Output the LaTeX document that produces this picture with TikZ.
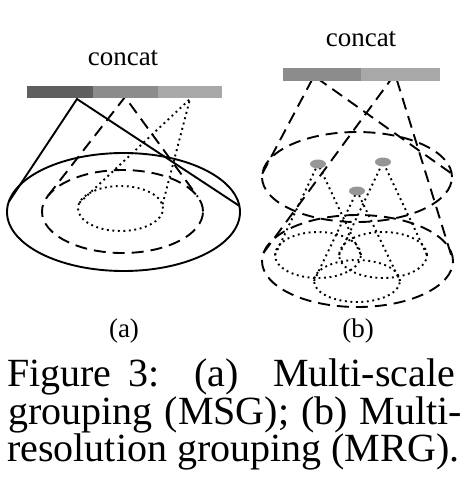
\documentclass[tikz,border=0pt]{standalone}
\usepackage{fontspec}
\setmainfont{Liberation Serif}
\usetikzlibrary{shapes.geometric}
\definecolor{barA}{RGB}{95,95,95}
\definecolor{barB}{RGB}{140,140,140}
\definecolor{barC}{RGB}{168,168,168}
\definecolor{dotgray}{RGB}{150,150,150}
\begin{document}
\begin{tikzpicture}[x=1pt,y=-1pt,
  solidl/.style={line width=1.9pt},
  dashl/.style={line width=1.9pt, dash pattern=on 12pt off 7pt},
  dotl/.style={line width=1.9pt, dash pattern=on 1.9pt off 3.6pt},
  ell/.style={ellipse, draw, inner sep=0pt, outer sep=0pt},
  barseg/.style={rectangle, inner sep=0pt, outer sep=0pt, draw=none},
  gdot/.style={ellipse, fill=dotgray, draw=none, inner sep=0pt, minimum width=16pt, minimum height=9pt},
  lbl/.style={anchor=base, inner sep=0pt, font=\fontsize{27}{27}\selectfont},
  captext/.style={anchor=base west, inner sep=0pt, font=\fontsize{40}{41}\selectfont}]
\useasboundingbox (0,0) rectangle (474,504);

% ---------------- (a) ----------------
\coordinate (aS) at (77,99);
\coordinate (aD) at (125,97);
\coordinate (aT) at (190,99);
\node[ell, solidl, minimum width=233pt, minimum height=118pt] (aE1) at (123.5,212) {};
\node[ell, dashl, minimum width=161pt, minimum height=83pt] (aE2) at (122.5,211.5) {};
\node[ell, dotl, minimum width=85pt, minimum height=45pt] (aE3) at (120.5,208.5) {};
\draw[solidl] (aE1.175) -- (aS) -- (aE1.3);
\draw[dashl] (aE2.168) -- (aD) -- (aE2.11);
\draw[dotl] (aE3.172) -- (aT) -- (aE3.5);
\node[barseg, fill=barA, minimum width=66pt, minimum height=12pt] (ab1) at (60,92) {};
\node[barseg, fill=barB, minimum width=65pt, minimum height=12pt] (ab2) at (125.5,92) {};
\node[barseg, fill=barC, minimum width=64pt, minimum height=12pt] (ab3) at (190,92) {};
\node[lbl] (aconcat) at (123,65) {concat};
\node[lbl] (alab) at (124,337) {(a)};

% ---------------- (b) ----------------
\coordinate (bA1) at (314,76);
\coordinate (bA2) at (395,74);
\node[ell, dashl, minimum width=190pt, minimum height=90pt] (bU) at (357,177) {};
\node[ell, dashl, minimum width=191pt, minimum height=92pt] (bL) at (357.5,261) {};
\draw[dashl] (bU.178) -- (bA1) -- (bU.2);
\draw[dashl] (bL.175) -- (bA2) -- (bL.0);
\node[ell, dotl, minimum width=86pt, minimum height=46pt] (bE1) at (318,255) {};
\node[ell, dotl, minimum width=88pt, minimum height=46pt] (bE2) at (383,255) {};
\node[ell, dotl, minimum width=86pt, minimum height=42pt] (bE3) at (357,281) {};
\coordinate (bP1) at (318,164);
\coordinate (bP2) at (383,162);
\coordinate (bP3) at (357,191);
\draw[dotl] (bE1.west) -- (bP1) -- (bE1.east);
\draw[dotl] (bE2.west) -- (bP2) -- (bE2.east);
\draw[dotl] (bE3.west) -- (bP3) -- (bE3.east);
\node[gdot] (bd1) at (bP1) {};
\node[gdot] (bd2) at (bP2) {};
\node[gdot] (bd3) at (bP3) {};
\node[barseg, fill=barB, minimum width=78pt, minimum height=13pt] (bb1) at (322,74.5) {};
\node[barseg, fill=barC, minimum width=79pt, minimum height=13pt] (bb2) at (400.5,74.5) {};
\node[lbl] (bconcat) at (361,46) {concat};
\node[lbl] (blab) at (358,337) {(b)};

% ---------------- caption ----------------
\node[captext] (cap1) at (7,386.7) {\makebox[448pt][s]{Figure 3:\ \ (a)\ \ Multi-scale}};
\node[captext] (cap2) at (8,424) {\makebox[454pt][s]{grouping (MSG); (b) Multi-}};
\node[captext] (cap3) at (7,461.5) {resolution grouping (MRG).};
\end{tikzpicture}
\end{document}
